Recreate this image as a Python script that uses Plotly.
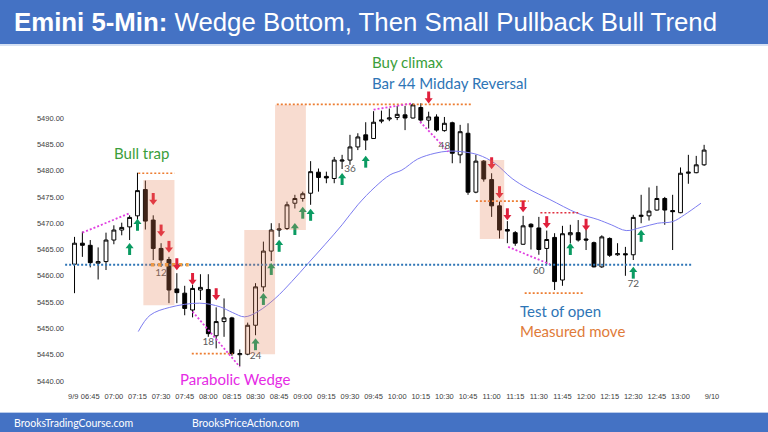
import plotly.graph_objects as go

# ---------------- data ----------------
bar_no = list(range(1, 82))
open_ = [5462.2, 5466.2, 5465.8, 5462.4, 5462.7, 5466.8, 5468.7, 5469.3, 5471.4, 5476.4,
         5470.6, 5465.2, 5463.1, 5457.5, 5456.7, 5453.5, 5457.3, 5457.4, 5448.6, 5451.3,
         5452.0, 5445.0, 5445.1, 5450.6, 5457.9, 5464.7, 5468.7, 5469.0, 5473.8, 5474.7,
         5475.7, 5479.7, 5478.9, 5478.5, 5481.8, 5482.0, 5484.5, 5486.8, 5486.1, 5489.4,
         5489.8, 5490.1, 5490.6, 5490.0, 5492.0, 5489.6, 5490.2, 5487.6, 5489.1, 5483.0,
         5487.1, 5475.9, 5481.8, 5478.3, 5473.3, 5468.8, 5468.2, 5466.0, 5469.8, 5469.1,
         5465.2, 5467.3, 5459.2, 5467.8, 5468.2, 5467.0, 5466.3, 5461.7, 5467.1, 5464.0,
         5464.2, 5464.0, 5471.3, 5471.4, 5472.5, 5474.7, 5472.4, 5472.0, 5479.5, 5479.6,
         5481.1]
high = [5467.4, 5468.4, 5466.8, 5465.4, 5468.2, 5469.6, 5470.1, 5471.5, 5479.6, 5478.1,
        5471.5, 5466.2, 5463.6, 5460.5, 5458.1, 5458.3, 5460.3, 5460.3, 5454.0, 5455.7,
        5452.2, 5446.0, 5451.1, 5458.6, 5466.5, 5470.0, 5470.0, 5474.1, 5475.4, 5476.0,
        5481.8, 5480.4, 5479.8, 5482.6, 5483.0, 5486.8, 5487.1, 5489.2, 5491.3, 5491.4,
        5491.8, 5492.3, 5492.3, 5492.8, 5492.8, 5491.2, 5490.7, 5490.2, 5489.3, 5488.7,
        5489.0, 5483.0, 5482.0, 5479.5, 5474.1, 5470.4, 5468.5, 5471.4, 5470.0, 5471.2,
        5468.6, 5468.1, 5469.5, 5469.7, 5470.6, 5469.0, 5466.5, 5467.7, 5467.3, 5466.2,
        5465.5, 5471.6, 5475.4, 5476.8, 5477.1, 5475.0, 5475.4, 5480.6, 5483.0, 5482.8,
        5484.9]
low = [5456.7, 5463.6, 5461.6, 5459.3, 5461.1, 5466.0, 5467.7, 5466.8, 5470.0, 5468.8,
       5463.0, 5461.7, 5454.8, 5454.8, 5452.5, 5452.1, 5455.4, 5448.4, 5446.2, 5448.4,
       5444.8, 5442.8, 5444.9, 5448.7, 5457.0, 5462.8, 5467.4, 5468.7, 5472.8, 5474.1,
       5473.5, 5476.0, 5477.6, 5477.6, 5480.3, 5481.1, 5483.9, 5483.9, 5486.1, 5489.0,
       5489.4, 5489.6, 5487.7, 5489.9, 5489.0, 5488.0, 5487.4, 5487.4, 5481.4, 5481.4,
       5475.4, 5475.7, 5477.9, 5471.2, 5467.1, 5466.2, 5465.7, 5465.9, 5465.0, 5464.0,
       5462.2, 5457.3, 5458.1, 5466.2, 5466.5, 5464.9, 5461.6, 5461.5, 5463.6, 5463.8,
       5460.0, 5463.0, 5470.0, 5470.5, 5472.4, 5469.7, 5464.9, 5471.9, 5477.5, 5479.5,
       5480.9]
close = [5466.2, 5465.8, 5462.5, 5462.7, 5466.8, 5468.7, 5469.2, 5471.1, 5476.2, 5470.4,
         5465.2, 5463.0, 5457.3, 5456.8, 5453.8, 5457.6, 5457.8, 5449.0, 5451.3, 5452.0,
         5445.2, 5445.2, 5450.6, 5457.9, 5464.7, 5468.7, 5468.9, 5473.5, 5474.7, 5475.6,
         5479.8, 5478.7, 5478.6, 5482.0, 5482.0, 5484.5, 5486.4, 5485.8, 5489.2, 5489.6,
         5490.0, 5490.7, 5490.0, 5492.5, 5489.6, 5490.2, 5487.7, 5489.0, 5483.3, 5487.4,
         5475.9, 5481.8, 5478.4, 5473.3, 5468.7, 5468.5, 5466.2, 5469.5, 5469.3, 5465.0,
         5466.9, 5458.9, 5468.0, 5468.2, 5466.8, 5466.8, 5461.7, 5467.4, 5463.9, 5464.2,
         5464.0, 5471.1, 5471.5, 5472.3, 5474.7, 5472.5, 5472.2, 5479.5, 5479.7, 5481.1,
         5483.9]

tick_bars = [3, 6, 9, 12, 15, 18, 21, 24, 27, 30, 33, 36, 39, 42, 45, 48, 51, 54, 57,
             60, 63, 66, 69, 72, 75, 78, 82]
tick_labels = ["06:45", "07:00", "07:15", "07:30", "07:45", "08:00", "08:15", "08:30",
               "08:45", "09:00", "09:15", "09:30", "09:45", "10:00", "10:15", "10:30",
               "10:45", "11:00", "11:15", "11:30", "11:45", "12:00", "12:15", "12:30",
               "12:45", "13:00", "9/10"]
date_label = "9/9"
price_ticks = [5440, 5445, 5450, 5455, 5460, 5465, 5470, 5475, 5480, 5485, 5490]

# moving average line
ema_bar = [9.1, 10.6, 13.1, 16.9, 19.5, 21.1, 22.6, 24.3, 26.5, 28.6, 30.7, 32.8, 35.0,
           37.0, 39.2, 41.1, 42.6, 44.6, 46.8, 48.5, 50.2, 52.3, 54.4, 56.6, 58.6, 61.4,
           64.9, 67.5, 69.2, 71.1, 73.0, 75.1, 77.0, 78.5, 80.6]
ema_val = [5449.4, 5452.5, 5454.0, 5454.8, 5454.1, 5453.0, 5452.2, 5453.2, 5455.7, 5458.9,
           5462.4, 5465.9, 5469.7, 5473.5, 5476.9, 5479.2, 5480.1, 5482.2, 5483.3, 5483.7,
           5483.6, 5483.0, 5481.4, 5478.5, 5476.6, 5474.5, 5471.9, 5470.7, 5469.7, 5468.6,
           5469.2, 5470.0, 5470.3, 5471.6, 5473.8]

up_arrow_bar = [8, 9, 24, 25, 26, 27, 29, 30, 31, 35, 38, 64, 72, 73]
up_arrow_price = [5465.1, 5469.7, 5447.0, 5455.6, 5461.3, 5465.7, 5468.9, 5472.0, 5471.6,
                  5478.4, 5481.7, 5465.1, 5460.6, 5467.6]
down_arrow_bar = [11, 12, 13, 14, 16, 19, 46, 54, 55, 56, 58, 61, 66]
down_arrow_price = [5474.6, 5468.6, 5465.5, 5462.2, 5459.4, 5456.5, 5493.9, 5481.4,
                    5475.9, 5471.7, 5473.2, 5470.2, 5469.7]

count_bar = [12, 18, 24, 36, 48, 60, 72]
count_price = [5460.5, 5447.4, 5444.6, 5480.2, 5484.5, 5460.9, 5458.3]

# levels: (from bar, to bar, price)
orange_levels = [(9.1, 13.7, 5479.5), (26.7, 51.5, 5492.6), (52.0, 58.7, 5474.2),
                 (15.9, 21.1, 5445.2), (58.2, 65.7, 5456.7)]
orange_thick_level = (10.7, 15.5, 5462.1)
red_level = (60.2, 65.0, 5472.0)
open_level = (-0.7, 79.4, 5462.1)
# trend lines: (bar0, price0, bar1, price1)
magenta_lines = [(2.0, 5468.2, 8.0, 5471.9), (16.0, 5453.2, 22.0, 5442.7),
                 (39.0, 5491.6, 44.0, 5492.8), (44.9, 5489.3, 48.5, 5483.6),
                 (56.1, 5465.5, 61.4, 5462.2)]
# shaded zones: (bar0, bar1, price0, price1)
zones = [(9.75, 13.7, 5454.4, 5478.2), (22.57, 26.48, 5445.1, 5468.7),
         (26.48, 30.4, 5468.7, 5492.5), (52.5, 55.6, 5467.0, 5482.0)]

# text notes: (text, bar, price, anchor, colour)
notes = [("Bull trap", 9.5, 5483.4, "center", "#3A9E3A"),
         ("Buy climax", 38.5, 5500.6, "left", "#3A9E3A"),
         ("Bar 44 Midday Reversal", 38.5, 5496.6, "left", "#2E75B6"),
         ("Parabolic Wedge", 21.4, 5440.4, "center", "#E52BE5"),
         ("Test of open", 57.35, 5453.3, "left", "#2E75B6"),
         ("Measured move", 57.35, 5449.5, "left", "#E07B39")]

title_bold = "Emini 5-Min:"
title_rest = " Wedge Bottom, Then Small Pullback Bull Trend"
footer_texts = ["BrooksTradingCourse.com", "BrooksPriceAction.com"]

# ---------------- layout geometry ----------------
W, H = 768, 432
PL, PR, PT, PB = 65, 740, 50, 385
X_RANGE = [-0.21, 85.56]
Y_RANGE = [5439.24, 5502.93]
DOTS = "2px,2px"


def px(xp):
    return (xp - PL) / (PR - PL)


def py(yp):
    return (PB - yp) / (PB - PT)


fig = go.Figure()

# moving average
fig.add_trace(go.Scatter(x=ema_bar, y=ema_val, mode="lines",
                         line=dict(color="#7C7CF0", width=1, shape="spline"), hoverinfo="skip"))

# open level
fig.add_trace(go.Scatter(x=[open_level[0], open_level[1]], y=[open_level[2]] * 2, mode="lines",
                         line=dict(color="#2E75B6", width=2, dash=DOTS), hoverinfo="skip"))

# candles
fig.add_trace(go.Candlestick(x=bar_no, open=open_, high=high, low=low, close=close,
                             increasing=dict(fillcolor="white", line=dict(color="black", width=1)),
                             decreasing=dict(fillcolor="black", line=dict(color="black", width=1)),
                             whiskerwidth=0, hoverinfo="skip"))

# orange levels
for x0, x1, yv in orange_levels:
    fig.add_trace(go.Scatter(x=[x0, x1], y=[yv, yv], mode="lines",
                             line=dict(color="#ED7D31", width=1.6, dash=DOTS), hoverinfo="skip"))
fig.add_trace(go.Scatter(x=[orange_thick_level[0], orange_thick_level[1]], y=[orange_thick_level[2]] * 2,
                         mode="lines", line=dict(color="#F0A040", width=3.5, dash="dot"), hoverinfo="skip"))
fig.add_trace(go.Scatter(x=[red_level[0], red_level[1]], y=[red_level[2]] * 2, mode="lines",
                         line=dict(color="#E03040", width=1.6, dash=DOTS), hoverinfo="skip"))
for x0, y0, x1, y1 in magenta_lines:
    fig.add_trace(go.Scatter(x=[x0, x1], y=[y0, y1], mode="lines",
                             line=dict(color="#E040E0", width=1.8, dash=DOTS), hoverinfo="skip"))

# arrows
ARROW_HALF = 1.14
HEAD_OFF = 0.475
GREEN, RED = "#0A9B62", "#E0203C"
sx, sy = [], []
for b, p in zip(up_arrow_bar, up_arrow_price):
    sx += [b, b, None]
    sy += [p - ARROW_HALF, p + HEAD_OFF, None]
fig.add_trace(go.Scatter(x=sx, y=sy, mode="lines", line=dict(color=GREEN, width=3), hoverinfo="skip"))
fig.add_trace(go.Scatter(x=up_arrow_bar, y=[p + HEAD_OFF for p in up_arrow_price], mode="markers",
                         marker=dict(symbol="triangle-up", size=7, color=GREEN), hoverinfo="skip"))
sx, sy = [], []
for b, p in zip(down_arrow_bar, down_arrow_price):
    sx += [b, b, None]
    sy += [p + ARROW_HALF, p - HEAD_OFF, None]
fig.add_trace(go.Scatter(x=sx, y=sy, mode="lines", line=dict(color=RED, width=3), hoverinfo="skip"))
fig.add_trace(go.Scatter(x=down_arrow_bar, y=[p - HEAD_OFF for p in down_arrow_price], mode="markers",
                         marker=dict(symbol="triangle-down", size=7, color=RED), hoverinfo="skip"))

# bar count labels
fig.add_trace(go.Scatter(x=count_bar, y=count_price, mode="text", text=[str(c) for c in count_bar],
                         textfont=dict(family="Lato", size=10, color="#595959"), hoverinfo="skip"))

shapes = []
for x0, x1, y0, y1 in zones:
    shapes.append(dict(type="rect", xref="x", yref="y", x0=x0, x1=x1, y0=y0, y1=y1,
                       fillcolor="rgba(230,130,86,0.28)", line=dict(width=0), layer="above"))
# header / footer bands
shapes.append(dict(type="rect", xref="paper", yref="paper", x0=px(-5), x1=px(W + 5), y0=py(0), y1=py(44),
                   fillcolor="#4472C4", line=dict(width=0), layer="below"))
shapes.append(dict(type="rect", xref="paper", yref="paper", x0=px(-5), x1=px(W + 5), y0=py(44), y1=py(46),
                   fillcolor="#D6E1F3", line=dict(width=0), layer="below"))
shapes.append(dict(type="rect", xref="paper", yref="paper", x0=px(-5), x1=px(W + 5), y0=py(413), y1=py(H + 5),
                   fillcolor="#4472C4", line=dict(width=0), layer="below"))
shapes.append(dict(type="rect", xref="paper", yref="paper", x0=px(-5), x1=px(W + 5), y0=py(412), y1=py(413),
                   fillcolor="#B9CBEA", line=dict(width=0), layer="below"))

annotations = []
for txt, b, p, anc, col in notes:
    annotations.append(dict(x=b, y=p, xref="x", yref="y", text=txt, showarrow=False, xanchor=anc,
                            yanchor="middle", font=dict(family="Lato", size=15, color=col)))
annotations.append(dict(x=px(12), y=py(22), xref="paper", yref="paper",
                        text="<b>" + title_bold + "</b>" + title_rest, showarrow=False,
                        xanchor="left", yanchor="middle",
                        font=dict(family="Liberation Sans, Arial", size=25.8, color="white")))
annotations.append(dict(x=px(12), y=py(423), xref="paper", yref="paper", text=footer_texts[0],
                        showarrow=False, xanchor="left", yanchor="middle",
                        font=dict(family="Lato", size=10.5, color="white")))
annotations.append(dict(x=px(190), y=py(423), xref="paper", yref="paper", text=footer_texts[1],
                        showarrow=False, xanchor="left", yanchor="middle",
                        font=dict(family="Lato", size=10.5, color="white")))
annotations.append(dict(x=tick_bars[0], y=py(396), xref="x", yref="paper", text=date_label,
                        showarrow=False, xanchor="right", yanchor="middle", xshift=-10,
                        font=dict(family="Liberation Sans, Arial", size=7.5, color="#404040")))

fig.update_layout(
    width=W, height=H, margin=dict(l=PL, r=W - PR, t=PT, b=H - PB),
    paper_bgcolor="white", plot_bgcolor="white", showlegend=False,
    shapes=shapes, annotations=annotations,
    xaxis=dict(range=X_RANGE, tickmode="array", tickvals=tick_bars, ticktext=tick_labels,
               showgrid=False, zeroline=False, showline=False, ticks="", ticklabelstandoff=5,
               rangeslider=dict(visible=False),
               tickfont=dict(family="Liberation Sans, Arial", size=7.5, color="#404040")),
    yaxis=dict(range=Y_RANGE, tickmode="array", tickvals=price_ticks,
               ticktext=[f"{v:.2f}" for v in price_ticks],
               showgrid=False, zeroline=False, showline=False, ticks="",
               tickfont=dict(family="Liberation Sans, Arial", size=7.5, color="#404040")),
)

fig.write_html("out.html")
